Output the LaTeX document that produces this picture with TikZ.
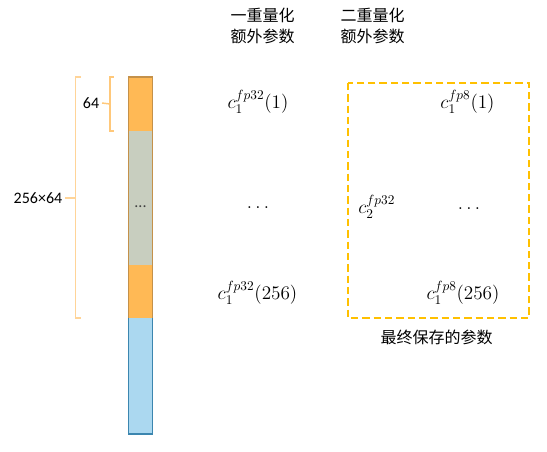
\documentclass[tikz,border=0pt]{standalone}
\usepackage{amsmath, amssymb}
\usepackage[no-math]{fontspec}
\setmainfont{Carlito}
\newfontfamily\cjk{Noto Sans CJK SC}
\usepackage{tikz}

\definecolor{barorange}{HTML}{FFB955}
\definecolor{bargray}{HTML}{C8CEBF}
\definecolor{barblue}{HTML}{ABD8F0}
\definecolor{baredge}{HTML}{C4914A}
\definecolor{blueedge}{HTML}{3C86AF}
\definecolor{bracelight}{HTML}{FFD498}
\definecolor{bracedark}{HTML}{FFC87A}
\definecolor{boxgold}{HTML}{FFC000}

\tikzset{
	cjktext/.style={font=\fontsize{12}{15.75}\selectfont\cjk, inner sep=1pt},
	formula/.style={font=\fontsize{14}{16}\selectfont, inner sep=0pt},
	numlabel/.style={font=\fontsize{12}{14}\selectfont, inner sep=2pt},
	brace/.style={line width=1.1pt}
}

\begin{document}
\begin{tikzpicture}[x=0.75pt,y=-0.75pt]
		\useasboundingbox (0,0) rectangle (547,452);
		
		\node[cjktext] (headone) at (262.5,27.5){\begin{tabular}{c}一重量化\\额外参数\end{tabular}};
		\node[cjktext] (headtwo) at (372.5,27.5){\begin{tabular}{c}二重量化\\额外参数\end{tabular}};
		
		\fill[barorange] (128.3,77) rectangle (152.7,131);
		\fill[bargray] (128.3,131) rectangle (152.7,265);
		\fill[barorange] (128.3,265) rectangle (152.7,318);
		\fill[barblue] (128.3,318) rectangle (152.7,434);
		\draw[baredge, line width=0.9pt] (128.3,318) -- (128.3,77) -- (152.7,77) -- (152.7,318);
		\draw[blueedge, line width=0.9pt] (128.3,318) -- (128.3,434) -- (152.7,434) -- (152.7,318);
		\node[numlabel, text=black!75] (bardots) at (140.5,207){...};
		
		\node[numlabel] (lblsmall) at (91,103){64};
		\coordinate (smallmid) at (110,104);
		\draw[brace, bracedark] (114,77) -- (110,77) -- (110,131) -- (114,131);
		\draw[brace, bracedark] (lblsmall.east) -- (smallmid);
		
		\node[numlabel] (lblbig) at (38,198){256×64};
		\coordinate (bigmid) at (75.7,198);
		\draw[brace, bracelight] (80.7,77) -- (75.7,77) -- (75.7,318) -- (80.7,318);
		\draw[brace, bracelight] (lblbig.east) -- (bigmid);
		
		\node[formula] (onefirst) at (258,102){$c_1^{fp32}(1)$};
		\node[formula] (onedots) at (258,208){$\ldots$};
		\node[formula] (onelast) at (257.5,293){$c_1^{fp32}(256)$};
		
		\draw[boxgold, line width=1.5pt, dash pattern=on 5.5pt off 3pt] (348,83) rectangle (529,318);
		\node[formula] (twofirst) at (467.5,102){$c_1^{fp8}(1)$};
		\node[formula] (twoscale) at (376.7,207){$c_2^{fp32}$};
		\node[formula] (twodots) at (469,209){$\ldots$};
		\node[formula] (twolast) at (463,293){$c_1^{fp8}(256)$};
		\node[cjktext] (saved) at (436.7,337){最终保存的参数};
		
		\end{tikzpicture}
\end{document}
